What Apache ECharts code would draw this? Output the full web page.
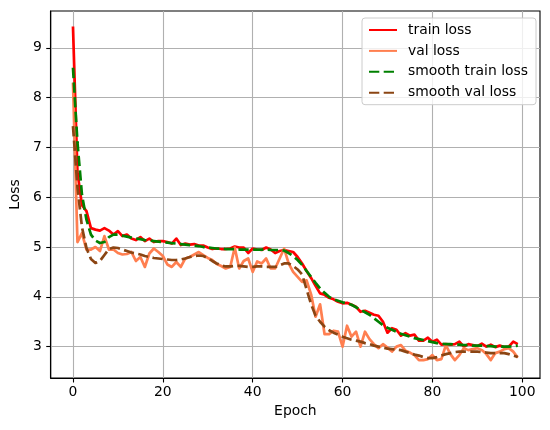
<!DOCTYPE html>
<html>
<head>
<meta charset="utf-8">
<script src="https://cdn.jsdelivr.net/npm/echarts@6/dist/echarts.min.js"></script>
<style>
html,body{margin:0;padding:0;background:#fff;}
#chart{width:550px;height:430px;}
</style>
</head>
<body>
<div id="chart"></div>
<script>
const epochs = Array.from({length: 100}, (_, i) => i);

const trainLoss = [9.43,6.5,5.84,5.72,5.38,5.35,5.33,5.38,5.33,5.25,
5.32,5.22,5.25,5.17,5.14,5.2,5.12,5.17,5.1,5.12,
5.12,5.1,5.07,5.17,5.04,5.07,5.05,5.06,5.03,5.03,
4.99,4.96,4.97,4.96,4.96,4.97,5.01,4.99,4.99,4.88,
4.97,4.95,4.94,4.99,4.95,4.88,4.92,4.94,4.92,4.9,
4.8,4.67,4.52,4.38,4.22,4.07,4.04,3.98,3.95,3.9,
3.87,3.88,3.84,3.8,3.7,3.72,3.68,3.64,3.62,3.5,
3.28,3.37,3.34,3.22,3.27,3.22,3.24,3.12,3.12,3.18,
3.1,3.14,3.04,3.05,3.04,3.05,3.1,3.0,3.05,3.03,
3.01,3.06,3.0,3.04,2.99,3.02,2.99,3.0,3.1,3.05];

const valLoss = [8.3,5.1,5.28,4.95,4.95,5.0,4.92,5.22,4.95,4.95,
4.88,4.85,4.86,4.9,4.72,4.8,4.6,4.87,4.97,4.9,
4.82,4.65,4.6,4.7,4.6,4.77,4.8,4.85,4.9,4.84,
4.78,4.74,4.66,4.62,4.57,4.6,4.99,4.57,4.72,4.77,
4.5,4.71,4.67,4.77,4.57,4.57,4.77,4.97,4.67,4.5,
4.4,4.3,4.33,4.05,3.6,3.85,3.25,3.25,3.32,3.3,
3.0,3.42,3.2,3.3,3.0,3.3,3.15,3.05,2.97,3.05,
2.98,2.9,3.0,3.03,2.92,2.88,2.83,2.73,2.73,2.75,
2.83,2.73,2.75,3.03,2.85,2.73,2.83,2.97,2.93,2.95,
2.97,2.93,2.85,2.73,2.87,2.9,2.95,2.97,2.9,2.78];

const smoothTrainLoss = [8.6,7.1,6.05,5.55,5.25,5.13,5.08,5.1,5.2,5.25,
5.25,5.23,5.21,5.19,5.17,5.16,5.14,5.13,5.12,5.11,
5.1,5.09,5.08,5.07,5.06,5.05,5.04,5.03,5.02,5.0,
4.99,4.98,4.97,4.97,4.96,4.96,4.96,4.95,4.95,4.95,
4.95,4.95,4.95,4.95,4.94,4.94,4.94,4.93,4.88,4.82,
4.74,4.64,4.52,4.4,4.28,4.17,4.08,4.0,3.95,3.92,
3.89,3.87,3.84,3.79,3.74,3.69,3.64,3.57,3.5,3.43,
3.38,3.34,3.3,3.26,3.23,3.2,3.17,3.15,3.13,3.11,
3.09,3.07,3.06,3.05,3.05,3.04,3.04,3.03,3.03,3.02,
3.02,3.02,3.01,3.01,3.0,3.0,3.0,3.0,3.01,3.02];

const smoothValLoss = [7.43,6.2,5.4,4.98,4.76,4.68,4.72,4.84,4.96,4.99,
4.98,4.95,4.92,4.89,4.87,4.85,4.82,4.8,4.78,4.77,
4.76,4.75,4.74,4.74,4.75,4.77,4.8,4.82,4.83,4.82,
4.78,4.72,4.67,4.63,4.61,4.61,4.62,4.62,4.61,4.6,
4.6,4.61,4.61,4.6,4.6,4.6,4.63,4.67,4.67,4.62,
4.55,4.45,4.15,3.85,3.62,3.5,3.4,3.33,3.28,3.24,
3.2,3.17,3.14,3.12,3.1,3.07,3.05,3.02,3.0,2.98,
2.96,2.95,2.94,2.93,2.9,2.87,2.84,2.82,2.79,2.77,
2.77,2.79,2.82,2.85,2.87,2.89,2.9,2.9,2.9,2.9,
2.9,2.89,2.88,2.87,2.87,2.87,2.87,2.85,2.82,2.79];

const xTicks = [0, 20, 40, 60, 80, 100];
const yTicks = [3, 4, 5, 6, 7, 8, 9];
const seriesNames = ['train loss', 'val loss', 'smooth train loss', 'smooth val loss'];

const FONT = 'DejaVu Sans';
const FS = 13.9;

function pairs(arr) { return arr.map((v, i) => [epochs[i], v]); }

function lineSeries(name, data, color, dashed) {
  return {
    name: name,
    type: 'line',
    data: pairs(data),
    symbol: 'none',
    showSymbol: false,
    smooth: false,
    animation: false,
    lineStyle: {
      color: color,
      width: 2.7,
      type: dashed ? [10.3, 4.4] : 'solid',
      cap: 'butt',
      join: 'round'
    },
    itemStyle: { color: color },
    emphasis: { disabled: true }
  };
}

const chart = echarts.init(document.getElementById('chart'), null, { renderer: 'canvas' });
chart.setOption({
  animation: false,
  backgroundColor: '#ffffff',
  grid: {
    left: 45, right: 10, top: 11, bottom: 52,
    show: true, borderColor: '#000', borderWidth: 1.1, backgroundColor: 'transparent'
  },
  legend: {
    data: seriesNames,
    orient: 'vertical',
    left: 362, top: 18,
    itemWidth: 28, itemHeight: 14, itemGap: 6.9,
    padding: [5, 8, 5, 6],
    backgroundColor: 'rgba(255,255,255,0.8)',
    borderColor: '#cccccc', borderWidth: 1, borderRadius: 3,
    itemStyle: { opacity: 0, color: 'rgba(0,0,0,0)', borderWidth: 0, borderColor: 'rgba(0,0,0,0)' },
    textStyle: { fontFamily: FONT, fontSize: FS, color: '#000', padding: [0, 0, 0, 6] },
    selectedMode: false
  },
  xAxis: {
    type: 'value',
    min: -4.95, max: 103.95,
    name: 'Epoch', nameLocation: 'middle', nameGap: 25,
    nameTextStyle: { fontFamily: FONT, fontSize: FS, color: '#000' },
    axisLine: { show: true, onZero: false, lineStyle: { color: '#000', width: 1.1 } },
    axisTick: { show: true, inside: false, length: 4.5, customValues: xTicks, lineStyle: { color: '#000', width: 1.1 } },
    axisLabel: { customValues: xTicks, margin: 7, fontFamily: FONT, fontSize: FS, color: '#000' },
    splitLine: { show: true, lineStyle: { color: '#b0b0b0', width: 1.1 } }
  },
  yAxis: {
    type: 'value',
    min: 2.37, max: 9.74,
    name: 'Loss', nameLocation: 'middle', nameGap: 27,
    nameTextStyle: { fontFamily: FONT, fontSize: FS, color: '#000' },
    axisLine: { show: true, onZero: false, lineStyle: { color: '#000', width: 1.1 } },
    axisTick: { show: true, inside: false, length: 4.5, customValues: yTicks, lineStyle: { color: '#000', width: 1.1 } },
    axisLabel: { customValues: yTicks, margin: 9, fontFamily: FONT, fontSize: FS, color: '#000' },
    splitLine: { show: true, lineStyle: { color: '#b0b0b0', width: 1.1 } }
  },
  series: [
    lineSeries(seriesNames[0], trainLoss, '#ff0000', false),
    lineSeries(seriesNames[1], valLoss, '#ff7f50', false),
    lineSeries(seriesNames[2], smoothTrainLoss, '#008000', true),
    lineSeries(seriesNames[3], smoothValLoss, '#8b4513', true)
  ]
});
</script>
</body>
</html>
